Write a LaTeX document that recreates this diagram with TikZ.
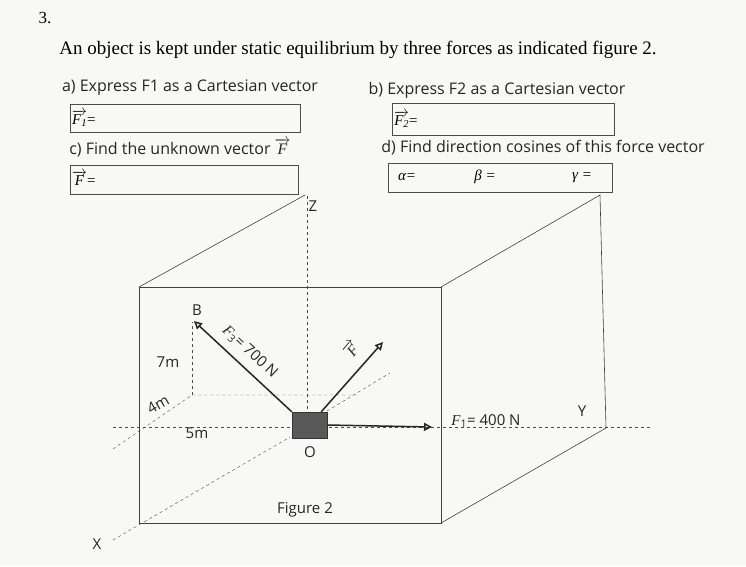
\RequirePackage{fix-cm}
\documentclass[tikz,border=0pt]{standalone}
\usepackage{fontspec}
\setmainfont{Liberation Serif}
\setsansfont{Open Sans}
\usetikzlibrary{arrows.meta}
\newcommand{\vecF}[1]{$\overrightarrow{\hbox{\rmfamily\itshape F\textsubscript{#1}}}$}
\begin{document}
\begin{tikzpicture}[x=1pt,y=-1pt,
  edge/.style={draw=black!75,line width=0.6pt},
  dashln/.style={draw=black!70,dashed,line width=0.4pt},
  force/.style={draw=black!85,line width=1.5pt,-{Stealth[length=8pt,width=8pt,inset=0pt,open]}},
  ansbox/.style={draw=black!70,line width=0.7pt},
  q/.style={font=\sffamily\fontsize{16}{18}\selectfont,text=black!85},
  lab/.style={font=\sffamily\fontsize{15}{17}\selectfont,text=black!85},
  mth/.style={font=\rmfamily\fontsize{15}{17}\selectfont,inner sep=2pt}]
\fill[white!95!yellow!60!gray!15] (0,0) rectangle (746,566);
\useasboundingbox (0,0) rectangle (746,566);
\node (n3) at (45,18) {\fontsize{17}{19}\selectfont 3.};
\node (title) at (358,50) {\fontsize{19}{21}\selectfont An object is kept under static equilibrium by three forces as indicated figure 2.};
\node[q] (qa) at (190,88) {a) Express F1 as a Cartesian vector};
\node[q] (qb) at (497,90) {b) Express F2 as a Cartesian vector};
\node[q] (qc) at (180,148) {c) Find the unknown vector \vecF{}};
\node[q] (qd) at (543,148) {d) Find direction cosines of this force vector};
\draw[ansbox] (70,104) rectangle (300,132);
\node[mth,anchor=west] (f1) at (70,118) {\vecF{1}=};
\draw[ansbox] (392,103) rectangle (614,135);
\node[mth,anchor=west] (f2) at (392,119) {\vecF{2}=};
\draw[ansbox] (70,165) rectangle (298,194);
\node[mth,anchor=west] (ff) at (70,179) {\vecF{}=};
\draw[ansbox] (388,163) rectangle (612,192);
\node[mth] (al) at (407,177) {\itshape α=};
\node[mth] (be) at (485,177) {\itshape β =};
\node[mth] (ga) at (582,178) {\itshape γ =};
% box edges
\coordinate (A) at (139,287); \coordinate (Bc) at (441,287);
\coordinate (C) at (441,523); \coordinate (D) at (139,523);
\coordinate (E) at (305,195); \coordinate (G) at (600,195);
\coordinate (H) at (606,428);
\draw[edge] (D) -- (A) -- (Bc) -- (C) -- cycle;
\draw[edge] (A) -- (E);
\draw[edge] (Bc) -- (G) -- (H) -- (C);
% axes
\coordinate (Y1) at (113,427); \coordinate (Y2) at (650,427);
\coordinate (X1) at (113,540); \coordinate (Z1) at (307,196);
\coordinate (P1) at (113,449); \coordinate (P2) at (192,395);
\coordinate (P3) at (360,395); \coordinate (P4) at (390,373);
\coordinate (Bp) at (192,322);
\draw[dashln] (Y1) -- (Y2);
\draw[dashln] (X1) -- (290,437);
\draw[dashln] (Z1) -- (307,412);
\draw[dashln] (P1) -- (P2) -- (P3);
\draw[dashln] (P2) -- (Bp);
\draw[dashln] (327,411) -- (P4);
% block
\node[draw=black!80,fill=black!65,minimum width=35pt,minimum height=26pt,inner sep=0pt] (blk) at (309.5,425) {};
\coordinate (F1e) at (432,427); \coordinate (F3e) at (194,321); \coordinate (Fe) at (383,342);
\draw[force] (blk.east) -- (F1e);
\draw[force] (blk.north west) -- (F3e);
\draw[force] ([xshift=-6pt]blk.north east) -- (Fe);
% labels
\node[lab] (lB) at (197,310) {B};
\node[lab] (lO) at (310,452) {O};
\node[lab] (lZ) at (313,206) {Z};
\node[lab] (lY) at (582,411) {Y};
\node[lab] (lX) at (97,544) {X};
\node[lab] (l7) at (168,362) {7m};
\node[lab,rotate=30] (l4) at (158,404) {4m};
\node[lab] (l5) at (197,433) {5m};
\node[lab] (lfig) at (305,510) {Figure 2};
\node[lab,rotate=-43] (lF3) at (250,352) {{\rmfamily\itshape F}\textsubscript{3}= 700 N};
\node[lab,rotate=50,inner sep=0pt] (lF) at (352,350) {\vecF{}};
\node[lab] (lF1) at (486,421) {{\rmfamily\itshape F}\textsubscript{1}= 400 N};
\end{tikzpicture}
\end{document}
